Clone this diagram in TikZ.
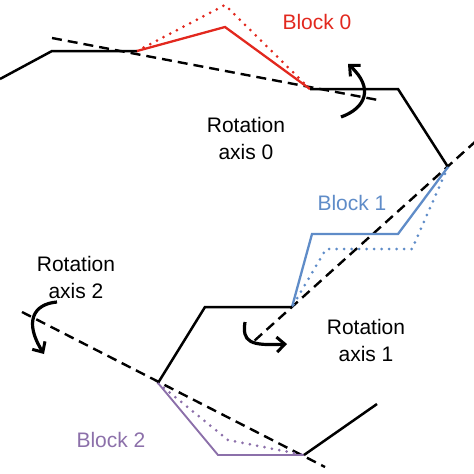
\documentclass[tikz,border=0pt]{standalone}
\usepackage{fontspec}
\setmainfont{Liberation Sans}
\usepackage{tikz}
\usetikzlibrary{arrows.meta, positioning, calc}
\definecolor{myred}{RGB}{226,40,30}
\definecolor{myblue}{RGB}{95,140,200}
\definecolor{mypurple}{RGB}{140,112,170}
\definecolor{mydark}{RGB}{0,0,0}
\tikzset{
  chain/.style={line width=2.5pt, color=mydark, line join=miter},
  blockline/.style={line width=2.3pt, line join=miter},
  ghost/.style={line width=3pt, dash pattern=on 0pt off 7.5pt, line cap=round},
  axisline/.style={line width=2.4pt, color=mydark, dash pattern=on 10pt off 6pt},
  rotarrow/.style={-{Straight Barb[length=8pt,width=15pt,line width=3pt]}, line width=3.2pt, color=mydark},
  lbl/.style={font=\fontsize{21}{27}\selectfont, align=center, inner sep=0pt}
}
\begin{document}
\begin{tikzpicture}[x=1pt, y=-1pt]
  \useasboundingbox (0,0) rectangle (474,474);

  % joints
  \coordinate (j0) at (0,79);
  \coordinate (j1) at (52,51);
  \coordinate (j2) at (137,51);
  \coordinate (j3) at (225,27);
  \coordinate (j4) at (310,89);
  \coordinate (j5) at (398,89);
  \coordinate (j6) at (448,167);
  \coordinate (j7) at (398,234);
  \coordinate (j8) at (312,234);
  \coordinate (j9) at (292,307);
  \coordinate (j10) at (205,307);
  \coordinate (j11) at (158,383);
  \coordinate (j12) at (218,455);
  \coordinate (j13) at (304,455);
  \coordinate (j14) at (377,404);

  % rotated positions
  \coordinate (r0) at (225,5);
  \coordinate (b1a) at (412,249);
  \coordinate (b1b) at (326,249);
  \coordinate (p2) at (228,440);

  % axis ends
  \coordinate (a0s) at (52,38);
  \coordinate (a0e) at (378,100);
  \coordinate (a1s) at (476,141);
  \coordinate (a1e) at (253,342);
  \coordinate (a2s) at (22,312);
  \coordinate (a2e) at (325,467);

  % Paths
  \draw[axisline] (a0s) -- (a0e);
  \draw[axisline] (a1s) -- (a1e);
  \draw[axisline] (a2s) -- (a2e);

  \draw[ghost, myred] (j2) -- (r0) -- (j4);
  \draw[ghost, myblue] (j6) -- (b1a) -- (b1b) -- (j9);
  \draw[ghost, mypurple] (j11) -- (p2) -- (j13);

  \draw[chain] (j0) -- (j1) -- (j2);
  \draw[blockline, myred] (j2) -- (j3) -- (j4);
  \draw[chain] (j4) -- (j5) -- (j6);
  \draw[blockline, myblue] (j6) -- (j7) -- (j8) -- (j9);
  \draw[chain] (j9) -- (j10) -- (j11);
  \draw[blockline, mypurple, line width=1.9pt] (j11) -- (j12) -- (j13);
  \draw[chain] (j13) -- (j14);

  % rotation arrows
  \draw[rotarrow] (341,117) .. controls (366,108) and (374,88) .. (348,64);
  \draw[rotarrow] (245,322) .. controls (242,342) and (250,346) .. (287,344);
  \draw[rotarrow] (57,302) .. controls (33,304) and (24,322) .. (44,354);

  % labels
  \node[lbl, myred] (blk0) at (317,22) {Block 0};
  \node[lbl] (rot0) at (246,138) {Rotation\\axis 0};
  \node[lbl, myblue] (blk1) at (352,203) {Block 1};
  \node[lbl] (rot1) at (366,340) {Rotation\\axis 1};
  \node[lbl] (rot2) at (76,277) {Rotation\\axis 2};
  \node[lbl, mypurple] (blk2) at (111,440) {Block 2};
\end{tikzpicture}
\end{document}
